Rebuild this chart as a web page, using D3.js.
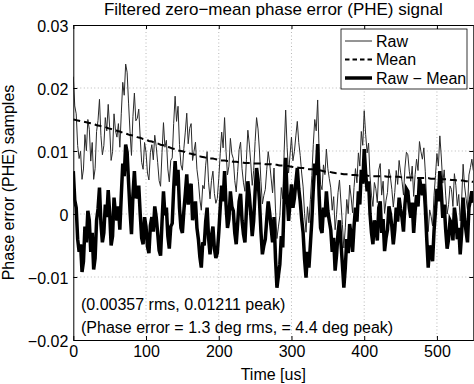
<html>

<head>
<meta charset="utf-8">
<style>
    body {
        margin: 0;
        font-family: "Liberation Sans", Arial, Helvetica, sans-serif;
        background-color: #FFFFFF;
    }

    svg text {
        font-family: "Liberation Sans", Arial, Helvetica, sans-serif;
        fill: #000000;
    }
</style>
<script src="https://d3js.org/d3.v7.min.js"></script>
</head>

<body>
<svg id="Chart"></svg>
</body>

<script>

// sampling of the PHE record, in microseconds
let sampleStepUs = 2

// Raw - Mean (thick line), every 2 us from t = 0
let rawMinusMean = [
  0.0068, 0.0022, 0.0010, -0.0040, -0.0060, -0.0048, -0.0092, -0.0075, -0.0020, -0.0045,
  0.0005, -0.0010, -0.0060, -0.0030, -0.0088, -0.0070, -0.0010, 0.0008, 0.0042, -0.0015,
  -0.0045, -0.0030, 0.0015, -0.0005, 0.0038, 0.0002, -0.0050, -0.0035, 0.0026, 0.0000,
  -0.0010, 0.0012, -0.0025, 0.0030, 0.0080, 0.0060, 0.0110, 0.0098, 0.0050, 0.0005,
  -0.0032, 0.0030, 0.0068, 0.0025, 0.0030, 0.0045, 0.0000, -0.0038, -0.0048, -0.0005,
  -0.0020, -0.0052, -0.0062, -0.0018, -0.0005, -0.0028, 0.0012, -0.0005, -0.0030, -0.0058,
  -0.0066, -0.0012, 0.0036, -0.0002, 0.0010, -0.0035, -0.0055, -0.0020, -0.0015, 0.0040,
  0.0084, 0.0045, 0.0070, 0.0010, -0.0022, -0.0030, 0.0005, 0.0032, 0.0063, 0.0015,
  0.0040, 0.0048, -0.0010, 0.0005, 0.0020, -0.0022, -0.0040, -0.0068, -0.0085, -0.0045,
  -0.0050, -0.0012, 0.0010, -0.0038, -0.0064, -0.0035, -0.0020, -0.0055, -0.0070, -0.0062,
  -0.0030, 0.0010, 0.0045, 0.0020, 0.0068, 0.0015, -0.0022, -0.0008, 0.0036, 0.0012,
  0.0005, -0.0030, -0.0048, -0.0015, 0.0020, 0.0032, -0.0010, -0.0032, -0.0045, 0.0005,
  0.0052, 0.0030, 0.0000, -0.0035, -0.0011, 0.0035, 0.0073, 0.0055, 0.0020, -0.0028,
  -0.0064, -0.0050, -0.0040, -0.0008, 0.0020, 0.0002, -0.0022, -0.0045, -0.0005, -0.0070,
  -0.0117, -0.0098, -0.0080, -0.0035, -0.0053, 0.0025, 0.0089, 0.0030, -0.0011, 0.0018,
  0.0047, 0.0010, 0.0025, 0.0050, 0.0073, 0.0040, 0.0020, -0.0008, -0.0030, -0.0072,
  -0.0101, -0.0060, -0.0085, -0.0048, -0.0010, 0.0040, 0.0080, 0.0062, 0.0111, 0.0030,
  -0.0022, -0.0030, 0.0010, -0.0005, 0.0036, 0.0005, -0.0011, -0.0025, -0.0060, -0.0038,
  -0.0090, -0.0065, -0.0030, -0.0010, -0.0045, -0.0080, -0.0117, -0.0085, -0.0040, -0.0062,
  -0.0016, -0.0035, -0.0060, -0.0020, 0.0010, -0.0012, 0.0036, 0.0015, 0.0070, 0.0048,
  0.0103, 0.0065, 0.0036, 0.0052, 0.0000, -0.0030, -0.0048, -0.0010, -0.0020, -0.0042,
  0.0010, 0.0020, -0.0030, -0.0008, -0.0059, -0.0038, -0.0025, 0.0012, 0.0000, -0.0020,
  -0.0048, -0.0025, 0.0010, -0.0012, 0.0026, 0.0008, -0.0006, -0.0028, 0.0015, 0.0040,
  0.0036, 0.0010, -0.0006, 0.0018, -0.0030, 0.0005, 0.0030, 0.0012, 0.0058, 0.0042,
  0.0030, 0.0048, 0.0010, -0.0040, -0.0085, -0.0050, -0.0060, -0.0075, -0.0027, 0.0005,
  0.0040, 0.0020, 0.0068, 0.0035, -0.0006, 0.0015, -0.0025, -0.0055, -0.0040, -0.0010,
  -0.0015, -0.0042, 0.0010, -0.0008, -0.0040, -0.0022, -0.0064, -0.0030, 0.0026, -0.0008,
  -0.0027, -0.0045, 0.0010, 0.0022, 0.0036, 0.0018
]

// Mean (dashed line) at the same sample times
let meanValues = [
  0.0150, 0.01495, 0.0149, 0.01485, 0.0148, 0.01475, 0.0147, 0.01465, 0.0146, 0.01455,
  0.0145, 0.01445, 0.0144, 0.01435, 0.0143, 0.0142, 0.0141, 0.01405, 0.0140, 0.01395,
  0.0139, 0.01385, 0.0138, 0.0137, 0.0136, 0.01355, 0.0135, 0.0134, 0.0133, 0.01325,
  0.0132, 0.01315, 0.0131, 0.0130, 0.0129, 0.01285, 0.0128, 0.0127, 0.0126, 0.01255,
  0.0125, 0.01245, 0.0124, 0.0123, 0.0122, 0.01215, 0.0121, 0.0120, 0.0119, 0.01185,
  0.0118, 0.0117, 0.0116, 0.01155, 0.0115, 0.0114, 0.0113, 0.01125, 0.0112, 0.0111,
  0.0110, 0.01095, 0.0109, 0.0108, 0.0107, 0.01065, 0.0106, 0.0105, 0.0104, 0.01035,
  0.0103, 0.0102, 0.0101, 0.01005, 0.0100, 0.00995, 0.0099, 0.0098, 0.0097, 0.00965,
  0.0096, 0.00955, 0.0095, 0.00945, 0.0094, 0.0093, 0.0092, 0.00915, 0.0091, 0.00905,
  0.0090, 0.00895, 0.0089, 0.00885, 0.0088, 0.0088, 0.0088, 0.00875, 0.0087, 0.00865,
  0.0086, 0.00855, 0.0085, 0.0085, 0.0085, 0.00845, 0.0084, 0.0084, 0.0084, 0.00835,
  0.0083, 0.0083, 0.0083, 0.00825, 0.0082, 0.0082, 0.0082, 0.00815, 0.0081, 0.0081,
  0.0081, 0.0081, 0.0081, 0.00805, 0.0080, 0.0080, 0.0080, 0.0080, 0.0080, 0.0080,
  0.0080, 0.00795, 0.0079, 0.0079, 0.0079, 0.0079, 0.0079, 0.00785, 0.0078, 0.0078,
  0.0078, 0.00775, 0.0077, 0.0077, 0.0077, 0.00765, 0.0076, 0.0076, 0.0076, 0.00755,
  0.0075, 0.00745, 0.0074, 0.0074, 0.0074, 0.00735, 0.0073, 0.0073, 0.0073, 0.00725,
  0.0072, 0.00715, 0.0071, 0.0071, 0.0071, 0.00705, 0.0070, 0.0070, 0.0070, 0.00695,
  0.0069, 0.00685, 0.0068, 0.00675, 0.0067, 0.0067, 0.0067, 0.00665, 0.0066, 0.00655,
  0.0065, 0.00645, 0.0064, 0.0064, 0.0064, 0.00635, 0.0063, 0.0063, 0.0063, 0.00625,
  0.0062, 0.0062, 0.0062, 0.0062, 0.0062, 0.00615, 0.0061, 0.0061, 0.0061, 0.0061,
  0.0061, 0.0061, 0.0061, 0.00605, 0.0060, 0.0060, 0.0060, 0.0060, 0.0060, 0.0060,
  0.0060, 0.0060, 0.0060, 0.0060, 0.0060, 0.00595, 0.0059, 0.0059, 0.0059, 0.0059,
  0.0059, 0.0059, 0.0059, 0.0059, 0.0059, 0.00585, 0.0058, 0.0058, 0.0058, 0.0058,
  0.0058, 0.0058, 0.0058, 0.0058, 0.0058, 0.00575, 0.0057, 0.0057, 0.0057, 0.0057,
  0.0057, 0.0057, 0.0057, 0.0057, 0.0057, 0.00565, 0.0056, 0.0056, 0.0056, 0.0056,
  0.0056, 0.0056, 0.0056, 0.00555, 0.0055, 0.0055, 0.0055, 0.0055, 0.0055, 0.00545,
  0.0054, 0.0054, 0.0054, 0.00535, 0.0053, 0.0053, 0.0053, 0.0053, 0.0053, 0.00525,
  0.0052, 0.0052, 0.0052, 0.00515, 0.0051, 0.0051
]

let xTicks = [0, 100, 200, 300, 400, 500]
let yTicks = [-0.02, -0.01, 0, 0.01, 0.02, 0.03]
let xDomain = [0, 550]
let yDomain = [-0.02, 0.03]

let titleText = "Filtered zero\u2212mean phase error (PHE) signal"
let xLabelText = "Time [us]"
let yLabelText = "Phase error (PHE) samples"
let legendLabels = ["Raw", "Mean", "Raw \u2212 Mean"]
let noteLines = [
  "(0.00357 rms, 0.01211 peak)",
  "(Phase error = 1.3 deg rms, = 4.4 deg peak)"
]

let fontSize = 16

function buildSeries() {
  let n = Math.min(rawMinusMean.length, meanValues.length)
  let rows = []
  for (let i = 0; i < n; i++) {
    rows.push({
      t: i * sampleStepUs,
      mean: meanValues[i],
      zm: rawMinusMean[i],
      raw: rawMinusMean[i] + meanValues[i]
    })
  }
  return rows
}

function drawChart() {
  let width = 474, height = 384
  let m = {left: 73.3, right: 0.7, top: 25, bottom: 44}
  let svg = d3.select("#Chart").attr("width", width).attr("height", height)

  let x = d3.scaleLinear().domain(xDomain).range([m.left, width - m.right])
  let y = d3.scaleLinear().domain(yDomain).range([height - m.bottom, m.top])
  let x0 = x.range()[0], x1 = x.range()[1]
  let y0 = y.range()[1], y1 = y.range()[0]

  let fmtY = d => d === 0 ? "0" : d3.format(".2f")(d)

  // dotted grid
  let grid = svg.append("g")
  grid.selectAll(".gx").data(xTicks.slice(1)).enter().append("line")
      .attr("x1", d => x(d)).attr("x2", d => x(d))
      .attr("y1", y0).attr("y2", y1)
      .attr("stroke", "#b8b8b8").attr("stroke-width", 1)
      .attr("stroke-dasharray", "1,2.5")
  grid.selectAll(".gy").data(yTicks.slice(1, -1)).enter().append("line")
      .attr("x1", x0).attr("x2", x1)
      .attr("y1", d => y(d)).attr("y2", d => y(d))
      .attr("stroke", "#b8b8b8").attr("stroke-width", 1)
      .attr("stroke-dasharray", "1,2.5")

  svg.append("clipPath").attr("id", "plotClip")
    .append("rect").attr("x", x0).attr("y", y0)
    .attr("width", x1 - x0).attr("height", y1 - y0)

  let rows = buildSeries()
  let plot = svg.append("g").attr("clip-path", "url(#plotClip)")

  let line = key => d3.line().x(d => x(d.t)).y(d => y(d[key]))

  plot.append("path").datum(rows)
      .attr("d", line("raw"))
      .attr("fill", "none").attr("stroke", "#2a2a2a").attr("stroke-width", 1)
  plot.append("path").datum(rows)
      .attr("d", line("mean"))
      .attr("fill", "none").attr("stroke", "#000").attr("stroke-width", 2)
      .attr("stroke-dasharray", "7,4")
  plot.append("path").datum(rows)
      .attr("d", line("zm"))
      .attr("fill", "none").attr("stroke", "#000").attr("stroke-width", 3.5)

  // axes box with inward ticks
  let xAxisB = d3.axisBottom(x).tickValues(xTicks).tickSizeInner(-4).tickSizeOuter(0).tickPadding(6)
  let xAxisT = d3.axisTop(x).tickValues(xTicks).tickSizeInner(-4).tickSizeOuter(0).tickFormat("")
  let yAxisL = d3.axisLeft(y).tickValues(yTicks).tickSizeInner(-4).tickSizeOuter(0).tickPadding(5).tickFormat(fmtY)
  let yAxisR = d3.axisRight(y).tickValues(yTicks).tickSizeInner(-4).tickSizeOuter(0).tickFormat("")

  let gxb = svg.append("g").attr("transform", `translate(0,${y1})`).call(xAxisB)
  svg.append("g").attr("transform", `translate(0,${y0})`).call(xAxisT)
  let gyl = svg.append("g").attr("transform", `translate(${x0},0)`).call(yAxisL)
  svg.append("g").attr("transform", `translate(${x1},0)`).call(yAxisR)

  svg.selectAll(".domain").attr("stroke", "#000").attr("stroke-width", 1)
  svg.selectAll(".tick line").attr("stroke", "#000")
  gxb.selectAll("text").attr("font-size", fontSize).attr("fill", "#000")
  gyl.selectAll("text").attr("font-size", fontSize).attr("fill", "#000")
  gyl.selectAll(".tick text").attr("dy", "0.4em")

  // title and labels
  svg.append("text").text(titleText)
      .attr("x", (x0 + x1) / 2).attr("y", 15)
      .attr("text-anchor", "middle").attr("font-size", 17)
  svg.append("text").text(xLabelText)
      .attr("x", (x0 + x1) / 2).attr("y", 380)
      .attr("text-anchor", "middle").attr("font-size", fontSize)
  svg.append("text").text(yLabelText)
      .attr("transform", `translate(14,${(y0 + y1) / 2}) rotate(-90)`)
      .attr("text-anchor", "middle").attr("font-size", fontSize)

  // notes inside the axes
  svg.selectAll(".note").data(noteLines).enter().append("text")
      .text(d => d)
      .attr("x", 81).attr("y", (d, i) => 310 + i * 23)
      .attr("font-size", fontSize)

  // legend
  let lg = svg.append("g")
  lg.append("rect").attr("x", 341).attr("y", 29).attr("width", 126).attr("height", 60)
      .attr("fill", "#fff").attr("stroke", "#000").attr("stroke-width", 0.8)
  let legendStyles = [
    {w: 1, c: "#2a2a2a", dash: null},
    {w: 2, c: "#000", dash: "4.5,3"},
    {w: 3.5, c: "#000", dash: null}
  ]
  legendLabels.forEach((lab, i) => {
    let ly = 41 + i * 18.5
    let s = legendStyles[i]
    let ln = lg.append("line").attr("x1", 345).attr("x2", 372)
        .attr("y1", ly).attr("y2", ly)
        .attr("stroke", s.c).attr("stroke-width", s.w)
    if (s.dash) ln.attr("stroke-dasharray", s.dash)
    lg.append("text").text(lab).attr("x", 376).attr("y", ly + 5.5)
        .attr("font-size", fontSize)
  })
}

drawChart()

</script>

</html>
